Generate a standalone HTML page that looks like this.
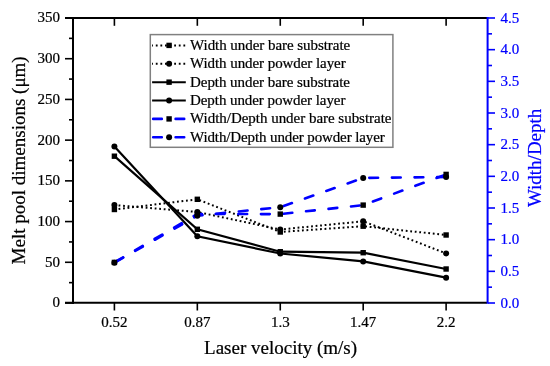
<!DOCTYPE html><html><head><meta charset="utf-8"><style>html,body{margin:0;padding:0;background:#fff;}svg{display:block;}text{font-family:'Liberation Serif','Times New Roman',serif;fill:#000;stroke:#000;stroke-width:0.22px}text.b{fill:#00f;stroke:#00f}</style></head><body>
<svg width="550" height="366" viewBox="0 0 550 366">
<rect width="550" height="366" fill="#fff"/>
<line x1="65" y1="303.00" x2="73" y2="303.00" stroke="#000" stroke-width="1.6"/>
<text x="60" y="307.40" font-size="15" text-anchor="end">0</text>
<line x1="69" y1="282.64" x2="73" y2="282.64" stroke="#000" stroke-width="1.6"/>
<line x1="65" y1="262.29" x2="73" y2="262.29" stroke="#000" stroke-width="1.6"/>
<text x="60" y="266.69" font-size="15" text-anchor="end">50</text>
<line x1="69" y1="241.93" x2="73" y2="241.93" stroke="#000" stroke-width="1.6"/>
<line x1="65" y1="221.57" x2="73" y2="221.57" stroke="#000" stroke-width="1.6"/>
<text x="60" y="225.97" font-size="15" text-anchor="end">100</text>
<line x1="69" y1="201.21" x2="73" y2="201.21" stroke="#000" stroke-width="1.6"/>
<line x1="65" y1="180.86" x2="73" y2="180.86" stroke="#000" stroke-width="1.6"/>
<text x="60" y="185.26" font-size="15" text-anchor="end">150</text>
<line x1="69" y1="160.50" x2="73" y2="160.50" stroke="#000" stroke-width="1.6"/>
<line x1="65" y1="140.14" x2="73" y2="140.14" stroke="#000" stroke-width="1.6"/>
<text x="60" y="144.54" font-size="15" text-anchor="end">200</text>
<line x1="69" y1="119.79" x2="73" y2="119.79" stroke="#000" stroke-width="1.6"/>
<line x1="65" y1="99.43" x2="73" y2="99.43" stroke="#000" stroke-width="1.6"/>
<text x="60" y="103.83" font-size="15" text-anchor="end">250</text>
<line x1="69" y1="79.07" x2="73" y2="79.07" stroke="#000" stroke-width="1.6"/>
<line x1="65" y1="58.71" x2="73" y2="58.71" stroke="#000" stroke-width="1.6"/>
<text x="60" y="63.11" font-size="15" text-anchor="end">300</text>
<line x1="69" y1="38.36" x2="73" y2="38.36" stroke="#000" stroke-width="1.6"/>
<line x1="65" y1="18.00" x2="73" y2="18.00" stroke="#000" stroke-width="1.6"/>
<text x="60" y="22.40" font-size="15" text-anchor="end">350</text>
<line x1="488" y1="303.00" x2="495" y2="303.00" stroke="#0000ff" stroke-width="1.6"/>
<text x="500.5" y="307.80" font-size="15" class="b">0.0</text>
<line x1="488" y1="287.17" x2="492" y2="287.17" stroke="#0000ff" stroke-width="1.6"/>
<line x1="488" y1="271.33" x2="495" y2="271.33" stroke="#0000ff" stroke-width="1.6"/>
<text x="500.5" y="276.13" font-size="15" class="b">0.5</text>
<line x1="488" y1="255.50" x2="492" y2="255.50" stroke="#0000ff" stroke-width="1.6"/>
<line x1="488" y1="239.67" x2="495" y2="239.67" stroke="#0000ff" stroke-width="1.6"/>
<text x="500.5" y="244.47" font-size="15" class="b">1.0</text>
<line x1="488" y1="223.83" x2="492" y2="223.83" stroke="#0000ff" stroke-width="1.6"/>
<line x1="488" y1="208.00" x2="495" y2="208.00" stroke="#0000ff" stroke-width="1.6"/>
<text x="500.5" y="212.80" font-size="15" class="b">1.5</text>
<line x1="488" y1="192.17" x2="492" y2="192.17" stroke="#0000ff" stroke-width="1.6"/>
<line x1="488" y1="176.33" x2="495" y2="176.33" stroke="#0000ff" stroke-width="1.6"/>
<text x="500.5" y="181.13" font-size="15" class="b">2.0</text>
<line x1="488" y1="160.50" x2="492" y2="160.50" stroke="#0000ff" stroke-width="1.6"/>
<line x1="488" y1="144.67" x2="495" y2="144.67" stroke="#0000ff" stroke-width="1.6"/>
<text x="500.5" y="149.47" font-size="15" class="b">2.5</text>
<line x1="488" y1="128.83" x2="492" y2="128.83" stroke="#0000ff" stroke-width="1.6"/>
<line x1="488" y1="113.00" x2="495" y2="113.00" stroke="#0000ff" stroke-width="1.6"/>
<text x="500.5" y="117.80" font-size="15" class="b">3.0</text>
<line x1="488" y1="97.17" x2="492" y2="97.17" stroke="#0000ff" stroke-width="1.6"/>
<line x1="488" y1="81.33" x2="495" y2="81.33" stroke="#0000ff" stroke-width="1.6"/>
<text x="500.5" y="86.13" font-size="15" class="b">3.5</text>
<line x1="488" y1="65.50" x2="492" y2="65.50" stroke="#0000ff" stroke-width="1.6"/>
<line x1="488" y1="49.67" x2="495" y2="49.67" stroke="#0000ff" stroke-width="1.6"/>
<text x="500.5" y="54.47" font-size="15" class="b">4.0</text>
<line x1="488" y1="33.83" x2="492" y2="33.83" stroke="#0000ff" stroke-width="1.6"/>
<line x1="488" y1="18.00" x2="495" y2="18.00" stroke="#0000ff" stroke-width="1.6"/>
<text x="500.5" y="22.80" font-size="15" class="b">4.5</text>
<line x1="114.40" y1="303" x2="114.40" y2="310.5" stroke="#000" stroke-width="1.6"/>
<line x1="114.40" y1="18" x2="114.40" y2="25.8" stroke="#000" stroke-width="1.6"/>
<text x="114.40" y="327" font-size="15" text-anchor="middle">0.52</text>
<line x1="197.33" y1="303" x2="197.33" y2="310.5" stroke="#000" stroke-width="1.6"/>
<line x1="197.33" y1="18" x2="197.33" y2="25.8" stroke="#000" stroke-width="1.6"/>
<text x="197.33" y="327" font-size="15" text-anchor="middle">0.87</text>
<line x1="280.26" y1="303" x2="280.26" y2="310.5" stroke="#000" stroke-width="1.6"/>
<line x1="280.26" y1="18" x2="280.26" y2="25.8" stroke="#000" stroke-width="1.6"/>
<text x="280.26" y="327" font-size="15" text-anchor="middle">1.3</text>
<line x1="363.19" y1="303" x2="363.19" y2="310.5" stroke="#000" stroke-width="1.6"/>
<line x1="363.19" y1="18" x2="363.19" y2="25.8" stroke="#000" stroke-width="1.6"/>
<text x="363.19" y="327" font-size="15" text-anchor="middle">1.47</text>
<line x1="446.12" y1="303" x2="446.12" y2="310.5" stroke="#000" stroke-width="1.6"/>
<line x1="446.12" y1="18" x2="446.12" y2="25.8" stroke="#000" stroke-width="1.6"/>
<text x="446.12" y="327" font-size="15" text-anchor="middle">2.2</text>
<line x1="65" y1="18" x2="487" y2="18" stroke="#000" stroke-width="2"/>
<line x1="65" y1="302.7" x2="487" y2="302.7" stroke="#000" stroke-width="1.9"/>
<line x1="73" y1="17" x2="73" y2="304" stroke="#000" stroke-width="2"/>
<line x1="487.6" y1="17" x2="487.6" y2="303.7" stroke="#0000ff" stroke-width="2"/>
<text x="280.6" y="353.7" font-size="19" text-anchor="middle">Laser velocity (m/s)</text>
<text transform="translate(25,160.35) rotate(-90)" font-size="19" text-anchor="middle">Melt pool dimensions (μm)</text>
<text transform="translate(541,157.9) rotate(-90)" font-size="19" text-anchor="middle" class="b">Width/Depth</text>
<polyline points="114.40,209.50 197.33,199.30 280.26,232.00 363.19,226.20 446.12,235.00" fill="none" stroke="#000" stroke-width="2" stroke-dasharray="1.8 2.73" stroke-dashoffset="0.35"/>
<polyline points="114.40,205.10 197.33,212.00 280.26,229.50 363.19,221.30 446.12,253.40" fill="none" stroke="#000" stroke-width="2" stroke-dasharray="1.8 2.73" stroke-dashoffset="0.35"/>
<polyline points="114.40,156.20 197.33,229.30 280.26,251.70 363.19,252.70 446.12,269.00" fill="none" stroke="#000" stroke-width="2.2"/>
<polyline points="114.40,146.60 197.33,236.30 280.26,253.50 363.19,261.40 446.12,277.70" fill="none" stroke="#000" stroke-width="2.2"/>
<polyline points="114.40,262.40 197.33,214.00 280.26,214.10 363.19,205.10 446.12,174.40" fill="none" stroke="#0000ff" stroke-width="2.6" stroke-dasharray="8.8 13.82" stroke-dashoffset="-1.3" stroke-linecap="round"/>
<polyline points="114.40,262.70 197.33,215.70 280.26,207.20 363.19,177.90 446.12,177.00" fill="none" stroke="#0000ff" stroke-width="2.6" stroke-dasharray="8.8 13.82" stroke-dashoffset="-1.3" stroke-linecap="round"/>
<rect x="111.70" y="206.80" width="5.4" height="5.4" fill="#000"/>
<rect x="194.63" y="196.60" width="5.4" height="5.4" fill="#000"/>
<rect x="277.56" y="229.30" width="5.4" height="5.4" fill="#000"/>
<rect x="360.49" y="223.50" width="5.4" height="5.4" fill="#000"/>
<rect x="443.42" y="232.30" width="5.4" height="5.4" fill="#000"/>
<circle cx="114.40" cy="205.10" r="3" fill="#000"/>
<circle cx="197.33" cy="212.00" r="3" fill="#000"/>
<circle cx="280.26" cy="229.50" r="3" fill="#000"/>
<circle cx="363.19" cy="221.30" r="3" fill="#000"/>
<circle cx="446.12" cy="253.40" r="3" fill="#000"/>
<rect x="111.70" y="153.50" width="5.4" height="5.4" fill="#000"/>
<rect x="194.63" y="226.60" width="5.4" height="5.4" fill="#000"/>
<rect x="277.56" y="249.00" width="5.4" height="5.4" fill="#000"/>
<rect x="360.49" y="250.00" width="5.4" height="5.4" fill="#000"/>
<rect x="443.42" y="266.30" width="5.4" height="5.4" fill="#000"/>
<circle cx="114.40" cy="146.60" r="3" fill="#000"/>
<circle cx="197.33" cy="236.30" r="3" fill="#000"/>
<circle cx="280.26" cy="253.50" r="3" fill="#000"/>
<circle cx="363.19" cy="261.40" r="3" fill="#000"/>
<circle cx="446.12" cy="277.70" r="3" fill="#000"/>
<rect x="111.70" y="259.70" width="5.4" height="5.4" fill="#000"/>
<rect x="194.63" y="211.30" width="5.4" height="5.4" fill="#000"/>
<rect x="277.56" y="211.40" width="5.4" height="5.4" fill="#000"/>
<rect x="360.49" y="202.40" width="5.4" height="5.4" fill="#000"/>
<rect x="443.42" y="171.70" width="5.4" height="5.4" fill="#000"/>
<circle cx="114.40" cy="262.70" r="3" fill="#000"/>
<circle cx="197.33" cy="215.70" r="3" fill="#000"/>
<circle cx="280.26" cy="207.20" r="3" fill="#000"/>
<circle cx="363.19" cy="177.90" r="3" fill="#000"/>
<circle cx="446.12" cy="177.00" r="3" fill="#000"/>
<rect x="150.3" y="34.6" width="242.6" height="112.7" fill="#fff" stroke="#808080" stroke-width="1.5"/>
<line x1="152.1" y1="45.40" x2="185.8" y2="45.40" stroke="#000" stroke-width="2" stroke-dasharray="1.8 2.8" stroke-dashoffset="0.9"/>
<rect x="166.40" y="42.70" width="5.4" height="5.4" fill="#000"/>
<text x="190" y="49.75" font-size="15" textLength="160.2">Width under bare substrate</text>
<line x1="152.1" y1="63.78" x2="185.8" y2="63.78" stroke="#000" stroke-width="2" stroke-dasharray="1.8 2.8" stroke-dashoffset="0.9"/>
<circle cx="169.10" cy="63.78" r="3" fill="#000"/>
<text x="190" y="68.13" font-size="15" textLength="155.7">Width under powder layer</text>
<line x1="152.1" y1="82.16" x2="185.8" y2="82.16" stroke="#000" stroke-width="2" />
<rect x="166.40" y="79.46" width="5.4" height="5.4" fill="#000"/>
<text x="190" y="86.51" font-size="15" textLength="160.0">Depth under bare substrate</text>
<line x1="152.1" y1="100.54" x2="185.8" y2="100.54" stroke="#000" stroke-width="2" />
<circle cx="169.10" cy="100.54" r="3" fill="#000"/>
<text x="190" y="104.89" font-size="15" textLength="155.4">Depth under powder layer</text>
<line x1="151.9" y1="118.92" x2="185.8" y2="118.92" stroke="#0000ff" stroke-width="2.6" stroke-dasharray="8.6 13.8" stroke-dashoffset="-1.3" stroke-linecap="round"/>
<rect x="166.40" y="116.22" width="5.4" height="5.4" fill="#000"/>
<text x="190" y="123.27" font-size="15" textLength="201.5">Width/Depth under bare substrate</text>
<line x1="151.9" y1="137.30" x2="185.8" y2="137.30" stroke="#0000ff" stroke-width="2.6" stroke-dasharray="8.6 13.8" stroke-dashoffset="-1.3" stroke-linecap="round"/>
<circle cx="169.10" cy="137.30" r="3" fill="#000"/>
<text x="190" y="141.65" font-size="15" textLength="194.7">Width/Depth under powder layer</text>
</svg></body></html>
